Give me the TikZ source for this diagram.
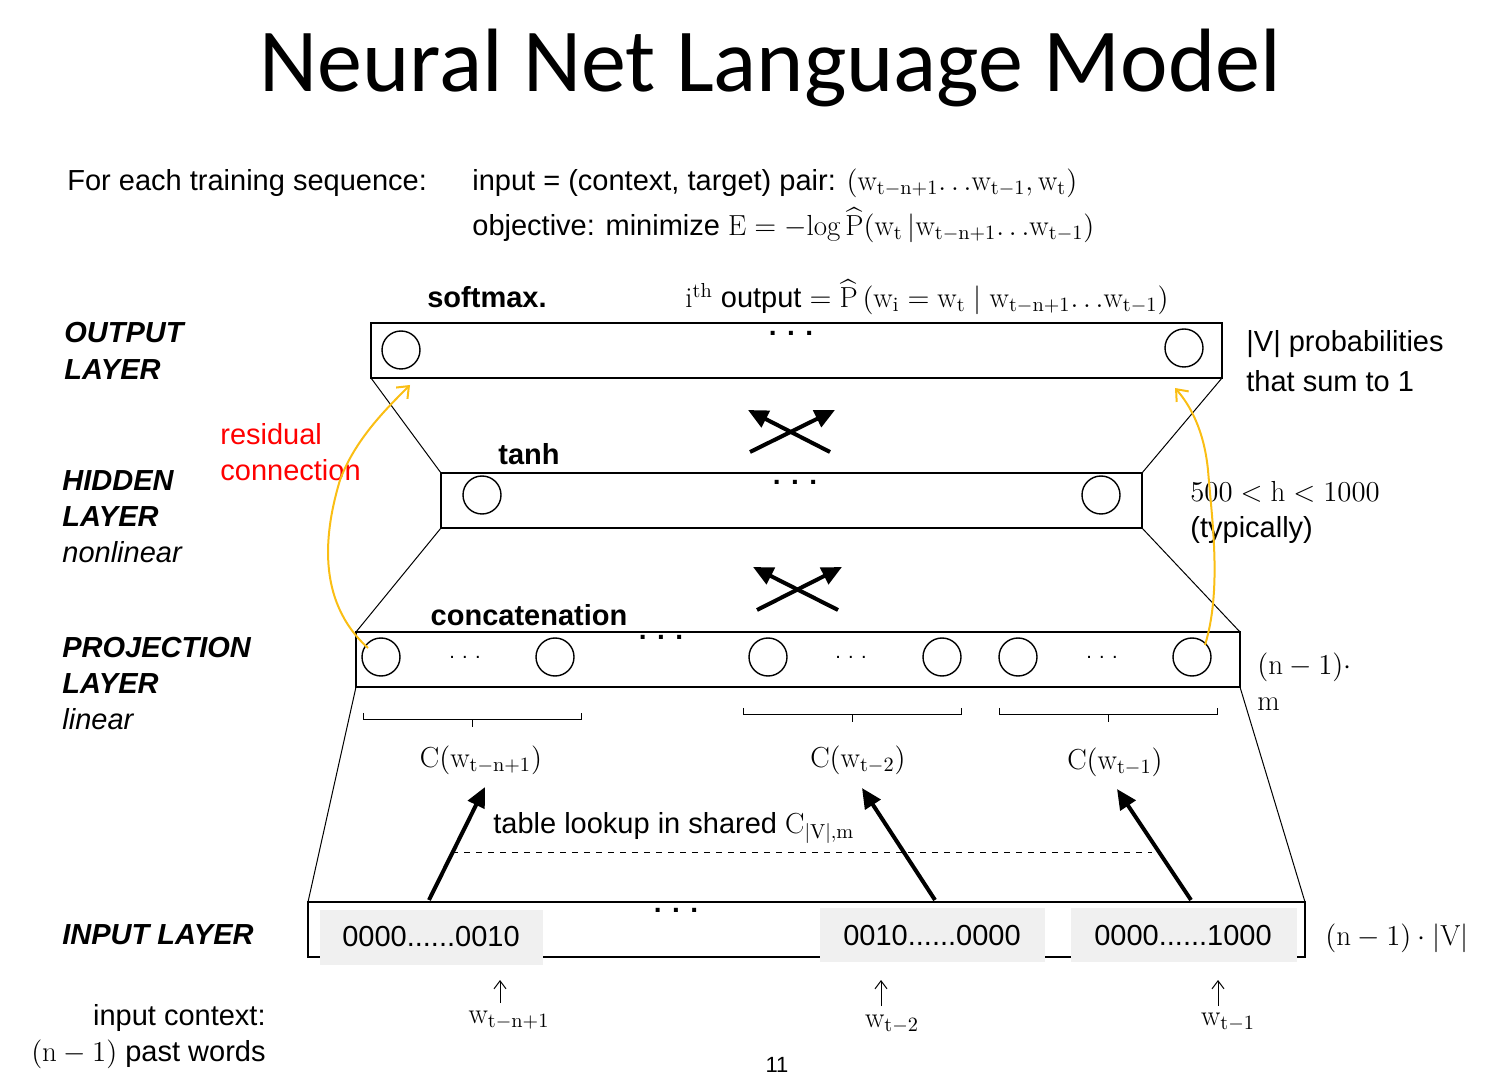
\documentclass[tikz,border=0pt]{standalone}
\usepackage{amsmath}
\usepackage{fontspec}
\setmainfont{Liberation Sans}
\setmathrm{Latin Modern Roman}
\newfontfamily\titlefont{Carlito}
\usetikzlibrary{arrows.meta}
\begin{document}
\begin{tikzpicture}[x=0.5pt,y=-0.5pt,
  lay/.style={draw,line width=0.7pt},
  cir/.style={draw,circle,minimum size=19pt,inner sep=0pt,line width=0.7pt},
  lbl/.style={anchor=west,font=\fontsize{14.5}{16}\selectfont,inner sep=0pt},
  lname/.style={anchor=west,font=\fontsize{14.5}{17}\selectfont\bfseries\itshape,inner sep=0pt},
  cross/.style={line width=2pt,-{Triangle[length=10pt,width=9pt]}},
  thick arr/.style={line width=2pt,-{Triangle[length=10pt,width=9pt]}},
  up/.style={-{Straight Barb[length=4pt,width=6pt]},line width=0.5pt},
  gbox/.style={fill=black!6,draw=none},
  dots/.style={font=\fontsize{14}{16}\selectfont\bfseries,inner sep=0pt},
  res/.style={draw={rgb,255:red,250;green,190;blue,20},line width=1pt,-{Straight Barb[length=5pt,width=8pt]}}]
\useasboundingbox (0,0) rectangle (1501,1080);
\node (title) at (770,68) {\fontsize{45}{47}\selectfont\titlefont Neural Net Language Model};
\node[lbl] (fe) at (67,183) {For each training sequence:};
\node[lbl] (inp) at (472,183) {input = (context, target) pair: $(\mathrm{w}_{\mathrm{t-n+1}}{\ldots}\mathrm{w}_{\mathrm{t-1}},\mathrm{w}_{\mathrm{t}})$};
\node[lbl] (obj) at (472,225) {objective: minimize $\mathrm{E}=-\mathrm{log}\,\widehat{\mathrm{P}}(\mathrm{w}_{\mathrm{t}}\,\vert\mathrm{w}_{\mathrm{t-n+1}}{\ldots}\mathrm{w}_{\mathrm{t-1}})$};
\node[lbl,font=\fontsize{14.5}{16}\selectfont\bfseries,anchor=center] (sm) at (487,297) {softmax.};
\node[lbl] (ith) at (685,297) {$\mathrm{i}^{\mathrm{th}}$ output $=\widehat{\mathrm{P}}\,(\mathrm{w}_{\mathrm{i}}=\mathrm{w}_{\mathrm{t}}\;\vert\;\mathrm{w}_{\mathrm{t-n+1}}{\ldots}\mathrm{w}_{\mathrm{t-1}})$};
% output layer
\draw[lay] (371,323) rectangle (1222,378);
\node[cir] (o1) at (401,350) {}; \node[cir] (o2) at (1184,348) {};
\node[dots] (od) at (791,333) {. . .};
\node[lname] (ol1) at (64,333) {OUTPUT}; \node[lname] (ol2) at (64,370) {LAYER};
\node[lbl] (vp1) at (1246,344) {|V| probabilities};
\node[lbl] (vp2) at (1246,381) {that sum to 1};
% crosses
\coordinate (a1) at (750,452); \coordinate (a2) at (835,410);
\coordinate (a3) at (830,452); \coordinate (a4) at (748,410);
\draw[cross] (a1) -- (a2); \draw[cross] (a3) -- (a4);
\coordinate (b1) at (757,610); \coordinate (b2) at (842,567);
\coordinate (b3) at (838,610); \coordinate (b4) at (753,567);
\draw[cross] (b1) -- (b2); \draw[cross] (b3) -- (b4);
% hidden
\draw[lay] (441,473) rectangle (1142,528);
\node[cir] (h1) at (482,495) {}; \node[cir] (h2) at (1101,495) {};
\node[dots] (hd) at (795,482) {. . .};
\node[lbl,font=\fontsize{14.5}{16}\selectfont\bfseries,anchor=center] (tanh) at (529,454) {tanh};
\draw[line width=0.5pt] (371,378) -- (441,473) (1222,378) -- (1142,473);
\draw[line width=0.5pt] (441,528) -- (356,632) (1142,528) -- (1240,632);
\node[lname] (hl1) at (62,481) {HIDDEN}; \node[lname] (hl2) at (62,517) {LAYER};
\node[lbl,font=\fontsize{14.5}{16}\selectfont\itshape] (hl3) at (62,552) {nonlinear};
\node[lbl,text=red] (rc1) at (220,434) {residual};
\node[lbl,text=red] (rc2) at (220,470) {connection};
\node[lbl] (hh1) at (1190,492) {$500<\mathrm{h}<1000$};
\node[lbl] (hh2) at (1190,530) {(typically)};
% projection
\draw[lay] (356,632) rectangle (1240,687);
\foreach \i/\x in {1/381,2/555,3/768,4/942,5/1018,6/1192}{\node[cir] (p\i) at (\x,657) {};}
\foreach \i/\x in {1/465,2/851,3/1102}{\node[inner sep=0pt] (pd\i) at (\x,657) {. . .};}
\node[dots] (pd) at (661,637) {. . .};
\node[lbl,font=\fontsize{14.5}{16}\selectfont\bfseries,anchor=center] (cc) at (529,615) {concatenation};
\node[lname] (pl1) at (62,648) {PROJECTION}; \node[lname] (pl2) at (62,684) {LAYER};
\node[lbl,font=\fontsize{14.5}{16}\selectfont\itshape] (pl3) at (62,719) {linear};
\node[lbl] (nm1) at (1257,667) {$(\mathrm{n}-1)\cdot$};
\node[lbl] (nm2) at (1257,704) {$\mathrm{m}$};
% braces
\foreach \a/\b/\m/\y in {363/581/472/720,743/961/852/715,999/1217/1108/715}{
 \draw[line width=0.5pt] (\a,\y-7) -- (\a,\y) -- (\b,\y) -- (\b,\y-7) (\m,\y) -- (\m,\y+7);}
\node[lbl,anchor=center] (c1) at (481,760) {$\mathrm{C}(\mathrm{w}_{\mathrm{t-n+1}})$};
\node[lbl,anchor=center] (c2) at (858,760) {$\mathrm{C}(\mathrm{w}_{\mathrm{t-2}})$};
\node[lbl,anchor=center] (c3) at (1115,762) {$\mathrm{C}(\mathrm{w}_{\mathrm{t-1}})$};
\coordinate (t1) at (429,900); \coordinate (h1a) at (485,787);
\coordinate (t2) at (935,900); \coordinate (h2a) at (862,788);
\coordinate (t3) at (1191,900); \coordinate (h3a) at (1117,789);
\draw[thick arr] (t1) -- (h1a); \draw[thick arr] (t2) -- (h2a); \draw[thick arr] (t3) -- (h3a);
\node[lbl] (tl) at (493,828) {table lookup in shared $\mathrm{C}_{|\mathrm{V}|,\mathrm{m}}$};
\draw[dashed,line width=0.5pt] (452,852) -- (1152,852);
% input
\draw[line width=0.5pt] (356,687) -- (308,902) (1240,687) -- (1305,902);
\draw[lay] (308,902) -- (1305,902) -- (1305,957) -- (308,957) -- cycle;
\fill[gbox] (320,910) rectangle (543,965);
\fill[gbox] (820,908) rectangle (1045,962);
\fill[gbox] (1071,908) rectangle (1297,962);
\node[lbl,anchor=center] (i1) at (431,937) {0000......0010};
\node[lbl,anchor=center] (i2) at (932,936) {0010......0000};
\node[lbl,anchor=center] (i3) at (1183,936) {0000......1000};
\node[dots] (idd) at (676,910) {. . .};
\node[lname] (il) at (62,935) {INPUT LAYER};
\node[lbl] (iv) at (1325,938) {$(\mathrm{n}-1)\cdot|\mathrm{V}|$};
\coordinate (u1) at (500,1003); \coordinate (u1t) at (500,980);
\coordinate (u2) at (881,1006); \coordinate (u2t) at (881,980);
\coordinate (u3) at (1218,1006); \coordinate (u3t) at (1218,980);
\draw[up] (u1) -- (u1t); \draw[up] (u2) -- (u2t); \draw[up] (u3) -- (u3t);
\node[lbl,anchor=center] (w1) at (509,1020) {$\mathrm{w}_{\mathrm{t-n+1}}$};
\node[lbl,anchor=center] (w2) at (892,1024) {$\mathrm{w}_{\mathrm{t-2}}$};
\node[lbl,anchor=center] (w3) at (1228,1022) {$\mathrm{w}_{\mathrm{t-1}}$};
\node[lbl,anchor=east] (ic1) at (266,1018) {input context:};
\node[lbl,anchor=east] (ic2) at (266,1054) {$(\mathrm{n}-1)$ past words};
\node[font=\fontsize{11}{12}\selectfont] (pg) at (777,1065) {11};
% residual curves
\coordinate (r1s) at (368,648); \coordinate (r1e) at (410,385);
\draw[res] (r1s) .. controls (315,600) and (325,530) .. (340,480) .. controls (355,440) and (385,410) .. (r1e);
\coordinate (r2s) at (1205,645); \coordinate (r2e) at (1175,388);
\draw[res] (r2s) .. controls (1222,590) and (1212,520) .. (1208,470) .. controls (1204,430) and (1190,405) .. (r2e);
\end{tikzpicture}
\end{document}
